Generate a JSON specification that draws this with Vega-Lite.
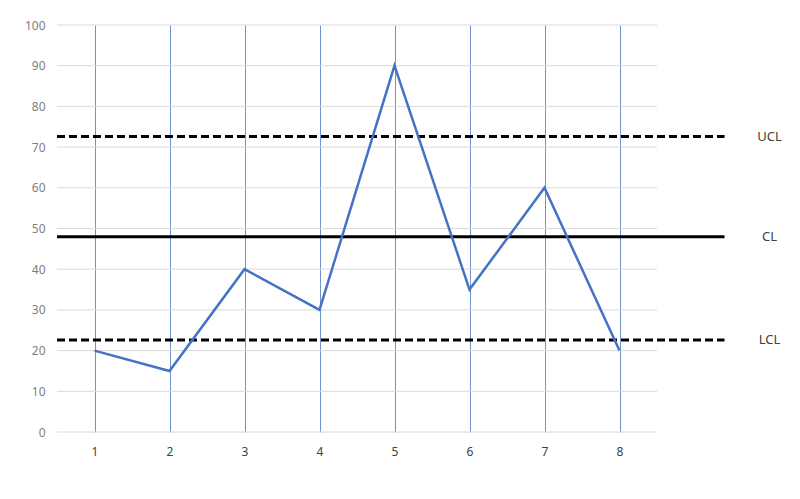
{
  "$schema": "https://vega.github.io/schema/vega-lite/v6.json",
  "autosize": "none",
  "width": 668,
  "height": 407,
  "padding": {"left": 57, "top": 25, "right": 75, "bottom": 67},
  "background": "white",
  "config": {"view": {"stroke": null}, "font": "Noto Sans"},
  "datasets": {
    "series": [
      {"sample": 1, "value": 20},
      {"sample": 2, "value": 15},
      {"sample": 3, "value": 40},
      {"sample": 4, "value": 30},
      {"sample": 5, "value": 90},
      {"sample": 6, "value": 35},
      {"sample": 7, "value": 60},
      {"sample": 8, "value": 20}
    ],
    "grid": [
      {"g": 0}, {"g": 10}, {"g": 20}, {"g": 30}, {"g": 40}, {"g": 50},
      {"g": 60}, {"g": 70}, {"g": 80}, {"g": 90}, {"g": 100}
    ],
    "limits": [
      {"name": "UCL", "limit": 72.6, "kind": "dashed"},
      {"name": "CL", "limit": 48, "kind": "solid"},
      {"name": "LCL", "limit": 22.6, "kind": "dashed"}
    ]
  },
  "layer": [
    {
      "data": {"name": "grid"},
      "mark": {"type": "rule", "color": "#d9d9d9", "strokeWidth": 1},
      "encoding": {
        "y": {"field": "g", "type": "quantitative", "scale": {"domain": [0, 100]},
          "axis": {"values": [0,10,20,30,40,50,60,70,80,90,100], "grid": false, "domain": false, "ticks": false,
            "labelPadding": 12, "labelColor": "#808080", "labelFontSize": 12, "title": null}},
        "x": {"datum": 0.5, "type": "quantitative", "scale": {"domain": [0.5, 9.4066], "nice": false, "zero": false},
          "axis": {"values": [1,2,3,4,5,6,7,8], "format": "d", "grid": true, "gridColor": "#6f93cf", "gridWidth": 1,
            "domain": false, "ticks": false, "labelPadding": 14, "labelColor": "#404040", "labelFontSize": 12, "title": null}},
        "x2": {"datum": 8.5}
      }
    },
    {
      "data": {"name": "limits"},
      "mark": {"type": "rule", "color": "black", "strokeWidth": 3},
      "encoding": {
        "y": {"field": "limit", "type": "quantitative"},
        "x": {"datum": 0.5, "type": "quantitative"},
        "x2": {"datum": 9.4},
        "strokeDash": {"field": "kind", "type": "nominal",
          "scale": {"domain": ["dashed", "solid"], "range": [[8, 4], [1, 0]]}, "legend": null}
      }
    },
    {
      "data": {"name": "series"},
      "mark": {"type": "line", "color": "#4472c4", "strokeWidth": 2.5},
      "encoding": {
        "x": {"field": "sample", "type": "quantitative"},
        "y": {"field": "value", "type": "quantitative"}
      }
    },
    {
      "data": {"name": "limits"},
      "mark": {"type": "text", "align": "center", "baseline": "middle", "fontSize": 13, "color": "#404040"},
      "encoding": {
        "y": {"field": "limit", "type": "quantitative"},
        "x": {"datum": 10.0, "type": "quantitative"},
        "text": {"field": "name"}
      }
    }
  ]
}
